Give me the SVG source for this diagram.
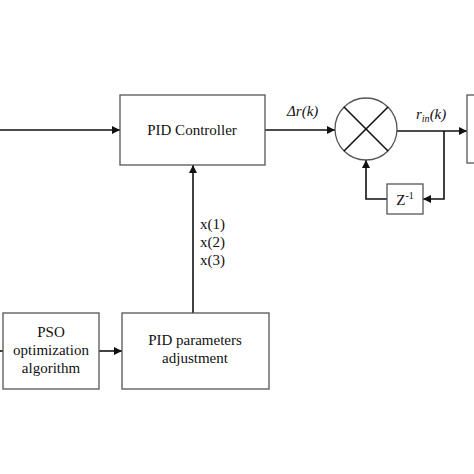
<svg xmlns="http://www.w3.org/2000/svg" width="474" height="474" viewBox="0 0 474 474">
<style>
.box{fill:#fff;stroke:#555;stroke-width:1.3}
.ln{fill:none;stroke:#111;stroke-width:1.6}
text{font-family:"Liberation Serif","Times New Roman",serif;font-size:15px;fill:#111}
</style>
<defs>
<marker id="ah" viewBox="0 0 10 10" refX="10" refY="5" markerWidth="8" markerHeight="8" markerUnits="userSpaceOnUse" orient="auto">
<path d="M0,0 L10,5 L0,10 z" fill="#111"/>
</marker>
</defs>
<rect width="474" height="474" fill="#fff"/>
<g id="connectors">
<line class="ln" x1="0" y1="130" x2="120" y2="130" marker-end="url(#ah)"/>
<line class="ln" x1="265" y1="130" x2="335" y2="130" marker-end="url(#ah)"/>
<line class="ln" x1="397" y1="131" x2="467" y2="131" marker-end="url(#ah)"/>
<polyline class="ln" points="444,131 444,199 423,199" marker-end="url(#ah)"/>
<polyline class="ln" points="387,199 366,199 366,160" marker-end="url(#ah)"/>
<line class="ln" x1="193" y1="313" x2="193" y2="165" marker-end="url(#ah)"/>
<line class="ln" x1="99" y1="351" x2="122" y2="351" marker-end="url(#ah)"/>
<line class="ln" x1="0" y1="351" x2="3" y2="351"/>
</g>
<g id="pid-controller">
<rect class="box" x="120" y="95" width="145" height="70"/>
<text x="192" y="135" text-anchor="middle">PID Controller</text>
</g>
<g id="multiplier">
<circle cx="366" cy="129" r="31" fill="#fff" stroke="#555" stroke-width="1.3"/>
<line class="ln" x1="344" y1="107" x2="388" y2="151"/>
<line class="ln" x1="388" y1="107" x2="344" y2="151"/>
</g>
<g id="delay">
<rect class="box" x="387" y="184" width="36" height="30"/>
<text x="405" y="205" text-anchor="middle">Z<tspan dy="-6" font-size="10">-1</tspan></text>
</g>
<g id="right-block">
<rect class="box" x="467" y="95" width="20" height="68"/>
</g>
<g id="pso">
<rect class="box" x="3" y="313" width="96" height="76"/>
<text x="51" y="337" text-anchor="middle" font-size="16">PSO</text>
<text x="51" y="355" text-anchor="middle" font-size="16">optimization</text>
<text x="51" y="373" text-anchor="middle" font-size="16">algorithm</text>
</g>
<g id="pid-params">
<rect class="box" x="122" y="313" width="147" height="76"/>
<text x="195" y="345" text-anchor="middle">PID parameters</text>
<text x="195" y="363" text-anchor="middle">adjustment</text>
</g>
<g id="labels">
<text x="287" y="116" font-style="italic">Δr(k)</text>
<text x="416" y="119" font-style="italic">r<tspan font-size="10" dy="3">in</tspan><tspan dy="-3">(k)</tspan></text>
<text x="200" y="229">x(1)</text>
<text x="200" y="247">x(2)</text>
<text x="200" y="265">x(3)</text>
</g>
</svg>
